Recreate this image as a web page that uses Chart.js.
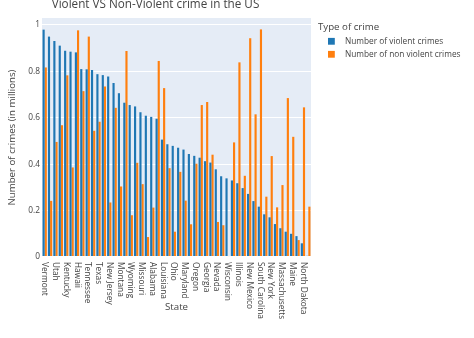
<!DOCTYPE html>
<html><head><meta charset="utf-8">
<script src="https://cdn.jsdelivr.net/npm/chart.js@4"></script>
<style>html,body{margin:0;padding:0;background:#fff;overflow:hidden}</style>
</head><body>
<canvas id="c" width="474" height="338"></canvas>
<script>
const TITLE = 'Violent VS Non-Violent crime in the US';
const X_TITLE = 'State';
const Y_TITLE = 'Number of crimes (in millions)';
const LEGEND_TITLE = 'Type of crime';
const SERIES_NAMES = ['Number of violent crimes', 'Number of non violent crimes'];
const STATES = [
  'Vermont','Alaska','Utah','Arizona','Kentucky','Arkansas','Hawaii','California','Tennessee','Colorado',
  'Texas','Connecticut','New Jersey','Delaware','Montana','Florida','Wyoming','Idaho','Missouri','Indiana',
  'Alabama','Iowa','Louisiana','Kansas','Ohio','Michigan','Maryland','Minnesota','Oregon','Mississippi',
  'Georgia','Nebraska','Nevada','New Hampshire','Wisconsin','North Carolina','Illinois','Oklahoma','New Mexico','Pennsylvania',
  'South Carolina','Rhode Island','New York','South Dakota','Massachusetts','Virginia','Maine','Washington','North Dakota','West Virginia'
];
const VIOLENT = [
  0.98,0.95,0.931,0.911,0.889,0.885,0.882,0.81,0.809,0.806,
  0.788,0.784,0.778,0.75,0.706,0.665,0.655,0.649,0.624,0.609,
  0.604,0.596,0.506,0.486,0.479,0.471,0.463,0.444,0.436,0.428,
  0.413,0.407,0.378,0.348,0.339,0.33,0.318,0.297,0.272,0.241,
  0.217,0.184,0.171,0.142,0.124,0.109,0.1,0.09,0.059,0.005
];
const NON_VIOLENT = [
  0.817,0.242,0.496,0.568,0.783,0.386,0.977,0.715,0.95,0.544,
  0.583,0.735,0.235,0.643,0.304,0.888,0.18,0.406,0.314,0.086,
  0.213,0.845,0.728,0.383,0.109,0.367,0.243,0.141,0.402,0.655,
  0.668,0.441,0.151,0.137,0.004,0.494,0.839,0.35,0.943,0.615,
  0.981,0.26,0.435,0.214,0.31,0.685,0.518,0.073,0.645,0.217
];
const Y_TICKS = [0, 0.2, 0.4, 0.6, 0.8, 1];
const COLORS = ['#1f77b4', '#ff7f0e'];
const FONT = '"Open Sans", "Noto Sans", sans-serif';
const TEXT = '#444';

const bgPlugin = {
  id: 'plotBg',
  beforeDraw(chart) {
    const {ctx, chartArea: a} = chart;
    ctx.save();
    ctx.fillStyle = '#E5ECF6';
    ctx.fillRect(a.left, a.top, a.right - a.left, a.bottom - a.top);
    ctx.restore();
  }
};

const xLabelPlugin = {
  id: 'xLabels',
  afterDraw(chart) {
    const {ctx, chartArea: a} = chart;
    const xs = chart.scales.x;
    ctx.save();
    ctx.font = '8.3px ' + FONT;
    ctx.fillStyle = TEXT;
    ctx.textAlign = 'left';
    ctx.textBaseline = 'middle';
    chart.data.labels.forEach((lab, i) => {
      if (i % 2 !== 0) return;
      const x = xs.getPixelForValue(i);
      ctx.save();
      ctx.translate(x, a.bottom + 5);
      ctx.rotate(Math.PI / 2);
      ctx.fillText(lab, 0, 0);
      ctx.restore();
    });
    ctx.restore();
  }
};

const legendPlugin = {
  id: 'customLegend',
  afterDraw(chart) {
    const {ctx} = chart;
    ctx.save();
    ctx.fillStyle = TEXT;
    ctx.textBaseline = 'middle';
    ctx.textAlign = 'left';
    ctx.font = '9.7px ' + FONT;
    ctx.fillText(LEGEND_TITLE, 318, 27);
    ctx.font = '8.3px ' + FONT;
    chart.data.datasets.forEach((ds, i) => {
      const cy = 41.3 + i * 13;
      ctx.fillStyle = ds.backgroundColor;
      ctx.fillRect(328, cy - 3.4, 6.8, 6.8);
      ctx.fillStyle = TEXT;
      ctx.fillText(ds.label, 345, cy);
    });
    ctx.restore();
  }
};

new Chart(document.getElementById('c'), {
  type: 'bar',
  data: {
    labels: STATES,
    datasets: [
      {label: SERIES_NAMES[0], data: VIOLENT, backgroundColor: COLORS[0], borderWidth: 0, categoryPercentage: 0.8, barPercentage: 1.0},
      {label: SERIES_NAMES[1], data: NON_VIOLENT, backgroundColor: COLORS[1], borderWidth: 0, categoryPercentage: 0.8, barPercentage: 1.0}
    ]
  },
  options: {
    responsive: false,
    animation: false,
    events: [],
    layout: {padding: {left: 0, right: 163, top: 0, bottom: 0}},
    plugins: {
      legend: {display: false},
      tooltip: {enabled: false},
      title: {
        display: true, text: TITLE, color: TEXT,
        font: {family: FONT, size: 11.7, weight: 'normal'},
        padding: {top: -2, bottom: 6}
      }
    },
    scales: {
      x: {
        grid: {display: false, drawTicks: false},
        border: {display: false},
        ticks: {display: false},
        title: {display: true, text: X_TITLE, color: TEXT, font: {family: FONT, size: 9.7}, padding: {top: 0, bottom: 25.3}},
        afterFit(s) { s.height = 81; }
      },
      y: {
        min: 0, max: 1.03,
        grid: {color: '#ffffff', lineWidth: ctx => (ctx.tick && ctx.tick.value === 0 ? 2 : 1), drawTicks: false},
        border: {display: false},
        ticks: {color: TEXT, font: {family: FONT, size: 8.3}, padding: 2, callback: v => String(+Number(v).toFixed(1))},
        afterBuildTicks(s) { s.ticks = Y_TICKS.map(v => ({value: v})); },
        title: {display: true, text: Y_TITLE, color: TEXT, font: {family: FONT, size: 9.7}, padding: {top: 6.3, bottom: 0}},
        afterFit(s) { s.width = 42; }
      }
    }
  },
  plugins: [bgPlugin, xLabelPlugin, legendPlugin]
});
</script>
</body></html>
